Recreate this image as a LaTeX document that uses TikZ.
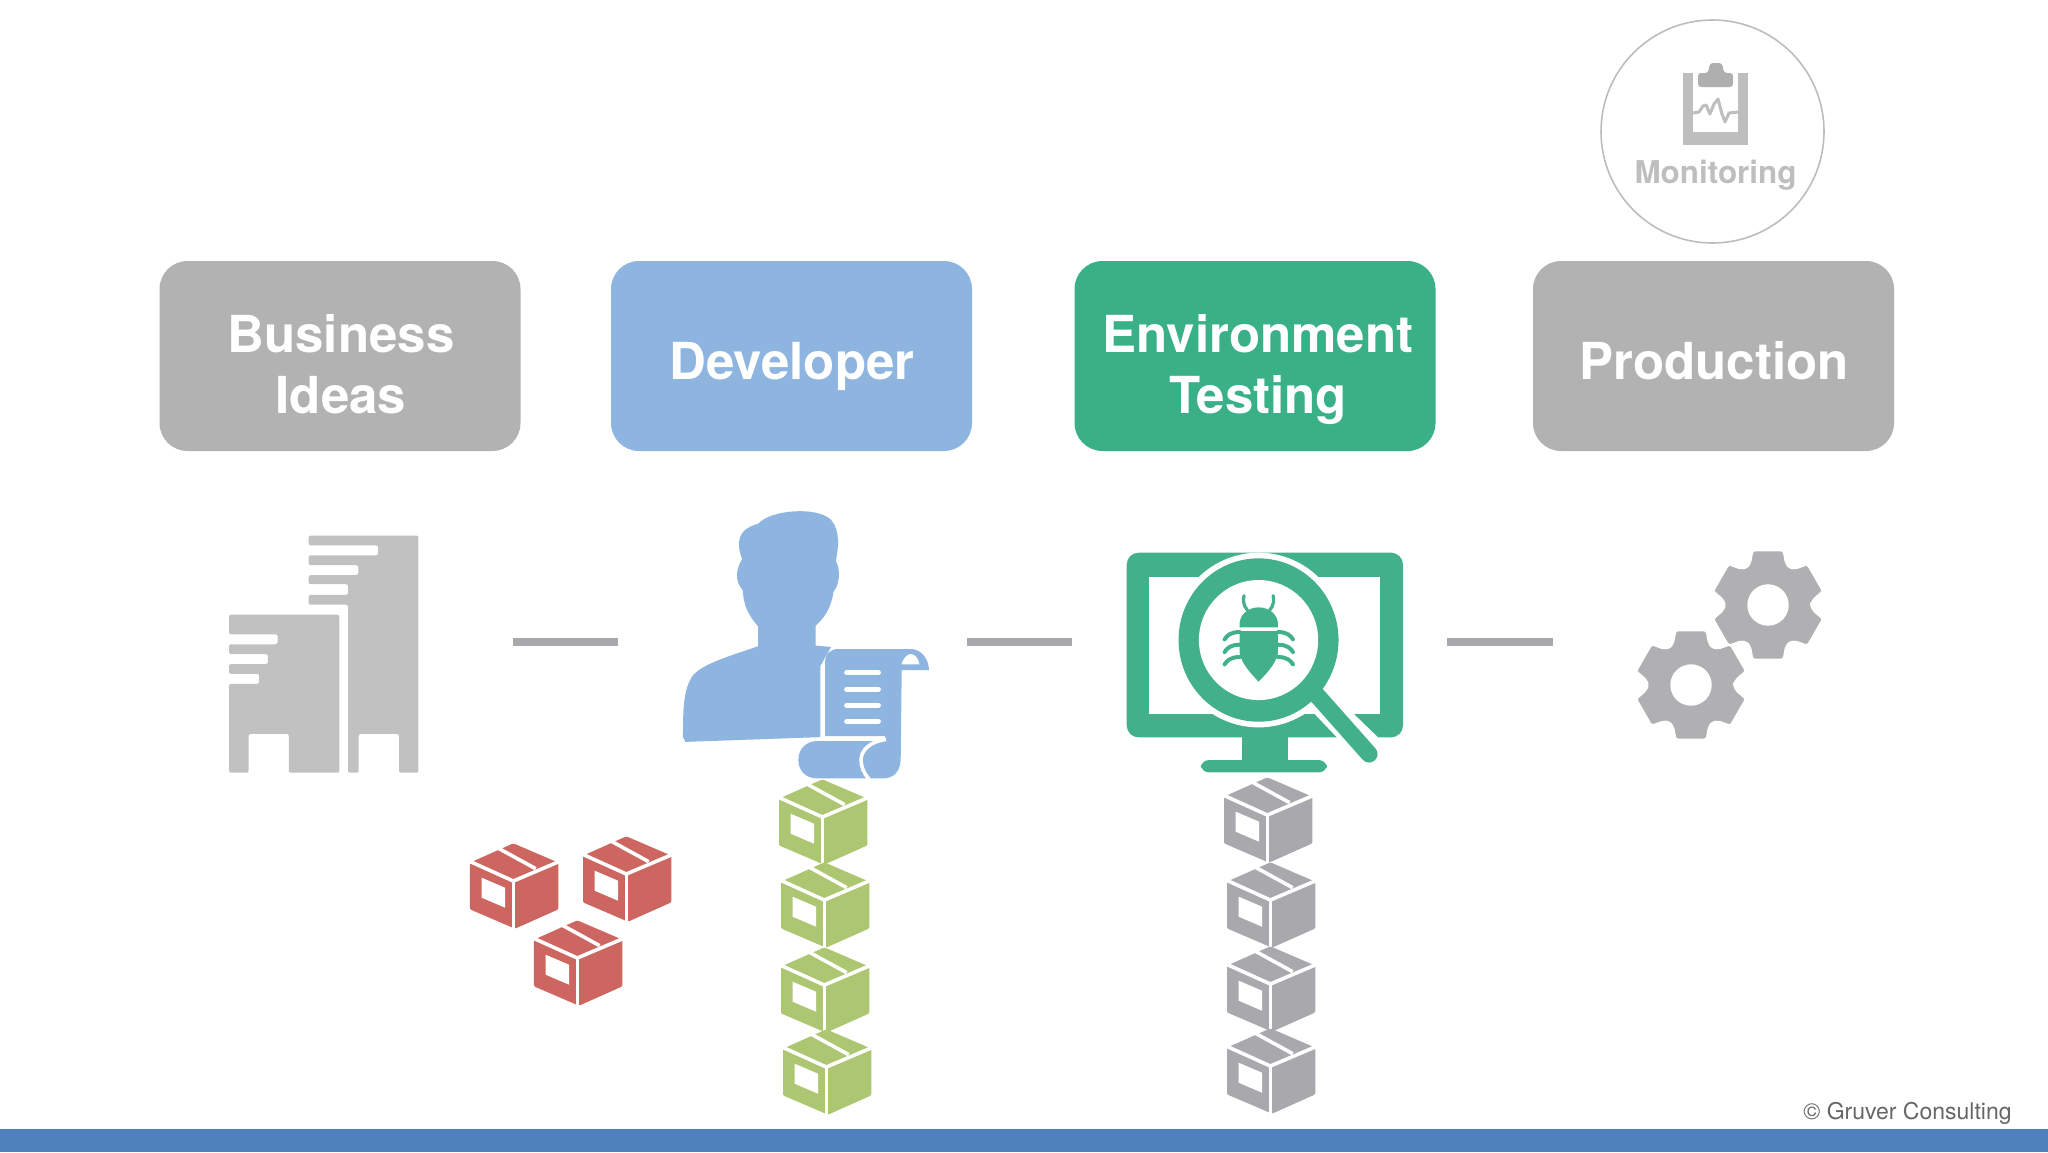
\documentclass[tikz,border=0pt]{standalone}
\usepackage{fontspec}
\setmainfont{TeX Gyre Heros}
\definecolor{boxgray}{HTML}{B2B2B2}
\definecolor{boxblue}{HTML}{8EB4E0}
\definecolor{boxgreen}{HTML}{3AB087}
\definecolor{bldg}{HTML}{C1C1C1}
\definecolor{dashc}{HTML}{A9A8AA}
\definecolor{gearc}{HTML}{B0AFB2}
\definecolor{monc}{HTML}{42B18B}
\definecolor{cred}{HTML}{CD6660}
\definecolor{cgreen}{HTML}{ADC671}
\definecolor{cgray}{HTML}{A9A8AC}
\definecolor{barc}{HTML}{4F81BD}
\definecolor{ringc}{HTML}{BDBDBD}
\definecolor{monitxt}{HTML}{BEBEBE}
\tikzset{
  stage/.style={rounded corners=14pt,minimum width=180.5pt,minimum height=95pt,inner sep=0pt},
  stagetxt/.style={anchor=base,inner sep=0pt,text=white,font=\fontsize{25.5}{30.5}\selectfont\bfseries},
  link/.style={draw=dashc,line width=4pt},
}
\newcommand{\crate}[3]{%
 \begin{scope}[shift={(#1,#2)},x=0.1667pt,y=-0.1667pt]
  \fill[#3,rounded corners=0.6pt] (-132,-70) -- (-2,-128) -- (133,-70) -- (133,70) -- (3,128) -- (-132,70) -- cycle;
  \draw[white,line width=1.8pt] (-135,-75) -- (-2,-15) -- (137,-74);
  \draw[white,line width=1.8pt] (-2,-15) -- (-2,135);
  \draw[white,line width=1.8pt] (-50,-115) -- (65,-52);
  \fill[white] (-97,-25) -- (-27,5) -- (-27,65) -- (-97,35) -- cycle;
 \end{scope}}
\newcommand{\gearshape}[2]{%
 \begin{scope}[shift={(#1,#2)}]
  \filldraw[fill=gearc,draw=white,line width=1.2pt,even odd rule,rounded corners=1pt] (0:43) foreach \a in {30,90,150,210,270,330} { -- (\a-30:43) -- (\a-23:46) -- (\a-16:57) -- (\a+16:57) -- (\a+23:46) } -- cycle
     (0,0) circle (19.5);
 \end{scope}}
\begin{document}
\begin{tikzpicture}[x=0.5pt,y=-0.5pt]
\useasboundingbox (0,0) rectangle (2048,1152);
\fill[white] (0,0) rectangle (2048,1152);
\fill[barc] (0,1129) rectangle (2048,1152);

% stages
\node[stage,fill=boxgray] (ideas) at (340,356) {};
\node[stage,fill=boxblue] (dev) at (791.5,356) {};
\node[stage,fill=boxgreen] (env) at (1255,356) {};
\node[stage,fill=boxgray] (prod) at (1713.5,356) {};
\node[stagetxt] (t1a) at (341,352) {Business};
\node[stagetxt] (t1b) at (341,413) {Ideas};
\node[stagetxt] (t2) at (792,379) {Developer};
\node[stagetxt] (t3a) at (1258,352) {Environment};
\node[stagetxt] (t3b) at (1258,413) {Testing};
\node[stagetxt] (t4) at (1714,379) {Production};

% monitoring
\node[circle,draw=ringc,line width=0.8pt,minimum size=111.5pt,inner sep=0pt] (mon) at (1712.5,131.5) {};
\node[anchor=base,text=monitxt,font=\fontsize{15.7}{18}\selectfont\bfseries,inner sep=0pt] (montxt) at (1715.5,183) {Monitoring};
\fill[monitxt] (1683,73) rectangle (1748,145);
\fill[white] (1693,73) rectangle (1738,132);
\fill[monitxt!92!black,rounded corners=1.5pt] (1698,73) -- (1708,73) -- (1710,63) -- (1722,63) -- (1724,73) -- (1733,73) -- (1733,87) -- (1698,87) -- cycle;
\draw[monitxt,line width=1.5pt,line join=round] (1693,113) -- (1699,112) -- (1703,106) -- (1706,105) -- (1710,114) -- (1714,104) -- (1718,99) -- (1722,114) -- (1725,122) -- (1729,113) -- (1738,112);

% building
\begin{scope}[shift={(200,500)},x=0.2427pt,y=-0.1976pt]
 \fill[bldg,rounded corners=1pt] (224,90) -- (450,90) -- (450,690) -- (410,690) -- (410,592) -- (327,592) -- (327,690) -- (305,690) -- (305,265) -- (224,265) -- (224,240) -- (305,240) -- (305,213) -- (224,213) -- (224,190) -- (326,190) -- (326,165) -- (224,165) -- (224,140) -- (367,140) -- (367,115) -- (224,115) -- cycle;
 \fill[bldg,rounded corners=1pt] (60,290) -- (287,290) -- (287,690) -- (183,690) -- (183,592) -- (100,592) -- (100,690) -- (60,690) -- (60,465) -- (122,465) -- (122,440) -- (60,440) -- (60,415) -- (140,415) -- (140,390) -- (60,390) -- (60,365) -- (160,365) -- (160,340) -- (60,340) -- cycle;
\end{scope}

% links
\coordinate (l1a) at (513,642); \coordinate (l1b) at (618,642);
\coordinate (l2a) at (967,642); \coordinate (l2b) at (1072,642);
\coordinate (l3a) at (1447,642); \coordinate (l3b) at (1553,642);
\draw[link] (l1a) -- (l1b);
\draw[link] (l2a) -- (l2b);
\draw[link] (l3a) -- (l3b);

% developer
\begin{scope}[shift={(200,500)},x=0.2427pt,y=-0.1976pt]
 \fill[boxblue] (1150,320) .. controls (1125,285) and (1120,260) .. (1118,228)
   .. controls (1100,205) and (1105,170) .. (1117,150)
   .. controls (1105,110) and (1105,75) .. (1150,60)
   .. controls (1175,25) and (1270,15) .. (1300,50)
   .. controls (1320,80) and (1315,120) .. (1310,155)
   .. controls (1320,175) and (1318,215) .. (1305,232)
   .. controls (1300,275) and (1285,300) .. (1268,318)
   -- (1268,368) -- (1300,372) -- (1278,420) -- (1278,600) -- (1000,612) -- (995,600)
   .. controls (995,540) and (995,490) .. (1010,455)
   .. controls (1020,420) and (1090,395) .. (1150,370) -- cycle;
\end{scope}
% scroll
\begin{scope}[shift={(780,630)},x=0.1667pt,y=-0.1667pt]
 \fill[boxblue] (135,318) -- (135,100) .. controls (135,72) and (150,57) .. (175,57)
   -- (395,57) .. controls (425,60) and (445,85) .. (447,120) -- (365,120)
   -- (362,390) .. controls (360,425) and (340,445) .. (310,445)
   -- (112,445) .. controls (75,445) and (55,420) .. (55,390)
   .. controls (55,355) and (80,333) .. (112,333)
   -- (315,333) -- (315,318) -- cycle;
 \fill[white] (365,103) .. controls (370,80) and (385,72) .. (392,72) .. controls (405,72) and (415,85) .. (418,103) -- cycle;
 \draw[white,line width=1.8pt] (318,328) .. controls (270,335) and (243,360) .. (243,390)
   .. controls (243,410) and (252,432) .. (268,448);
 \foreach \yy in {128,178,226,274} {\draw[white,line width=2.6pt,line cap=round] (200,\yy) -- (295,\yy);}
\end{scope}

% monitor
\begin{scope}[shift={(1100,530)},x=0.2424pt,y=-0.1667pt]
 \fill[monc,rounded corners=6pt] (55,68) rectangle (625,622);
 \fill[white] (102,140) rectangle (577,553);
 \fill[monc] (292,620) rectangle (387,692);
 \fill[monc,rounded corners=4pt] (208,690) rectangle (468,727);
 \fill[white] (327,330) circle [x radius=178,y radius=262];
 \fill[white] (425,525) -- (465,470) -- (590,645) -- (540,700) -- cycle;
 \fill[monc] (327,330) circle [x radius=165,y radius=245];
 \fill[white] (327,330) circle [x radius=123,y radius=180];
 \draw[monc,line width=8.5pt,line cap=round] (447,495) -- (555,672);
 % bug
 \fill[monc] (288,292) .. controls (285,255) and (305,232) .. (327,232) .. controls (350,232) and (370,255) .. (367,292) -- cycle;
 \fill[monc] (288,303) -- (367,303) -- (367,370) .. controls (362,405) and (340,435) .. (327,455) .. controls (315,435) and (293,405) .. (288,370) -- cycle;
 \draw[monc,line width=1.6pt,line cap=round] (304,240) .. controls (295,228) and (295,205) .. (297,197);
 \draw[monc,line width=1.6pt,line cap=round] (350,240) .. controls (359,228) and (359,205) .. (357,197);
 \foreach \yy in {0,38,75} {
   \draw[monc,line width=2pt,line cap=round] (288,306+\yy) .. controls (270,306+\yy) and (262,316+\yy) .. (257,328+\yy);
   \draw[monc,line width=2pt,line cap=round] (367,306+\yy) .. controls (385,306+\yy) and (393,316+\yy) .. (398,328+\yy);
 }
\end{scope}

% gears
\gearshape{1768}{605}
\gearshape{1691}{685}

% crates
\crate{514}{886}{cred}
\crate{627}{879}{cred}
\crate{578}{963}{cred}
\crate{823}{822}{cgreen}
\crate{825}{905}{cgreen}
\crate{825}{990}{cgreen}
\crate{827}{1072}{cgreen}
\crate{1268}{820}{cgray}
\crate{1271}{905}{cgray}
\crate{1271}{989}{cgray}
\crate{1271}{1071}{cgray}

\node[anchor=base east,inner sep=0pt,text=black!60,font=\fontsize{11.5}{14}\selectfont] (copy) at (2012,1119) {© Gruver Consulting};
\end{tikzpicture}
\end{document}
